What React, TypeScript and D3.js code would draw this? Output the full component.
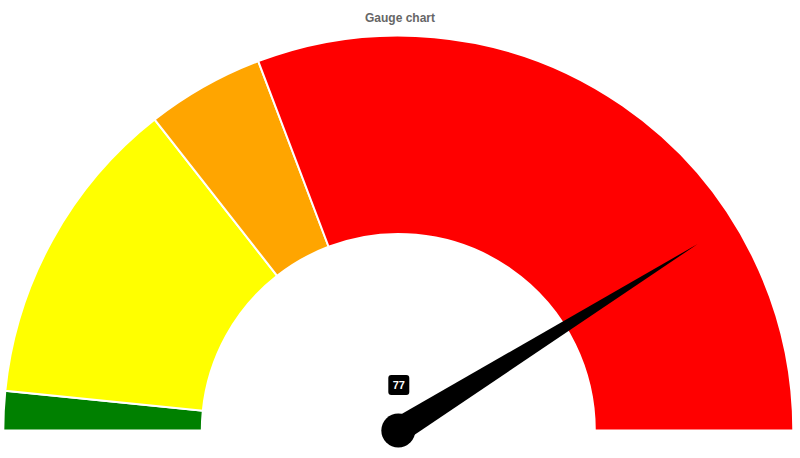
import {useEffect, useRef} from 'react';
import * as d3 from 'd3';

// cumulative segment limits of the gauge, and the needle value
const segmentLimits = [3, 27, 36, 93.6];
const segmentColors = ['green', 'yellow', 'orange', 'red'];
const gaugeValue = 77;
const chartTitle = 'Gauge chart';

const W = 800;
const H = 458;

const App = () => {
    const ref = useRef(null);

    useEffect(() => {
        d3.select(ref.current).selectAll('*').remove();

        const svg = d3.select(ref.current)
            .append('svg')
            .attr('width', W)
            .attr('height', H)
            .style('position', 'absolute')
            .style('left', 0)
            .style('top', 0);

        const cx = 398.3;
        const cy = 430.5;
        const outerR = 395;
        const innerR = 196.5;

        const maxValue = segmentLimits[segmentLimits.length - 1];
        const angle = d3.scaleLinear()
            .domain([0, maxValue])
            .range([-Math.PI / 2, Math.PI / 2]);

        svg.append('text')
            .attr('x', 400)
            .attr('y', 22)
            .attr('text-anchor', 'middle')
            .style('font-family', 'Liberation Sans, Arial, sans-serif')
            .style('font-size', '12px')
            .style('font-weight', 'bold')
            .style('fill', '#666')
            .text(chartTitle);

        const arc = d3.arc()
            .innerRadius(innerR)
            .outerRadius(outerR);

        const segments = segmentLimits.map((end, i) => ({
            start: i === 0 ? 0 : segmentLimits[i - 1],
            end,
            color: segmentColors[i],
        }));

        const g = svg.append('g')
            .attr('transform', `translate(${cx},${cy})`);

        g.selectAll('path.seg')
            .data(segments)
            .enter().append('path')
            .attr('class', 'seg')
            .attr('d', d => arc({startAngle: angle(d.start), endAngle: angle(d.end)} as any))
            .attr('fill', d => d.color)
            .attr('stroke', '#fff')
            .attr('stroke-width', 2);

        // needle
        const needleLen = outerR * 0.893;
        const needleHalf = 12.6;
        const rot = (angle(gaugeValue) * 180) / Math.PI + 90 + 180;
        const needle = g.append('g')
            .attr('transform', `rotate(${rot})`);
        needle.append('path')
            .attr('d', `M0,${-needleHalf}L${needleLen},0L0,${needleHalf}Z`)
            .attr('fill', '#000');
        g.append('circle')
            .attr('r', 17)
            .attr('fill', '#000');

        // value label
        const label = svg.append('g')
            .attr('transform', `translate(${cx + 0.5},385)`);
        label.append('rect')
            .attr('x', -10.5)
            .attr('y', -10)
            .attr('width', 21)
            .attr('height', 20)
            .attr('rx', 3)
            .attr('fill', '#000');
        label.append('text')
            .attr('text-anchor', 'middle')
            .attr('dy', '0.36em')
            .style('font-family', 'Liberation Sans, Arial, sans-serif')
            .style('font-size', '11px')
            .style('font-weight', 'bold')
            .style('fill', '#fff')
            .text(String(gaugeValue));
    }, []);

    return <div ref={ref}></div>;
};

export default App;
